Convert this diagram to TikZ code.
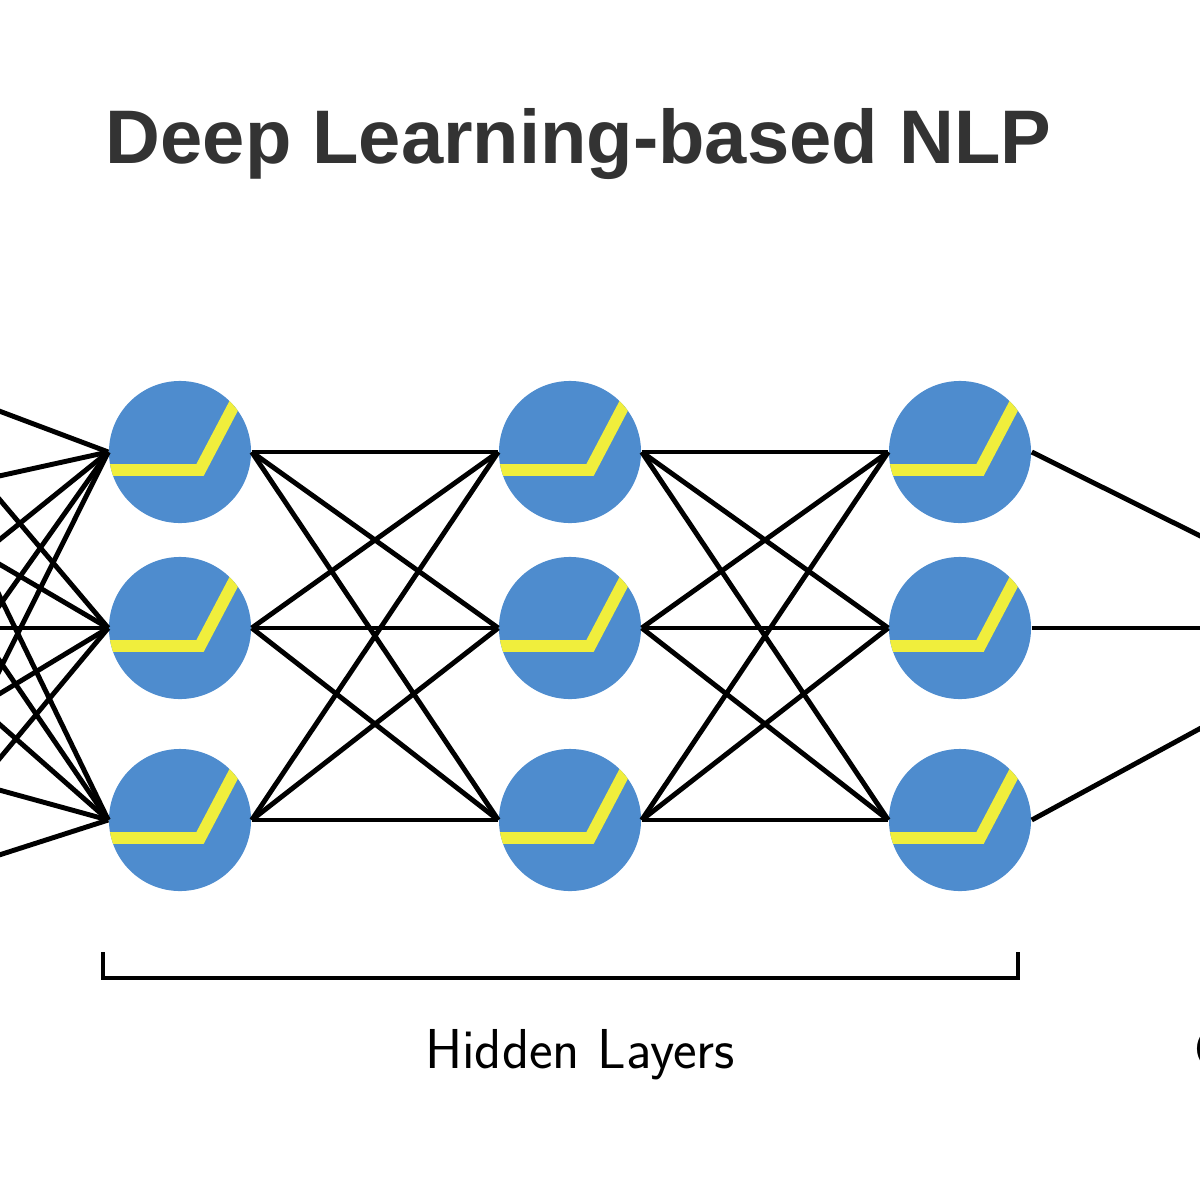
\documentclass[tikz,border=0pt]{standalone}
\usepackage{fontspec}
\newfontfamily\titlefont{Liberation Sans}
\begin{document}
\begin{tikzpicture}[x=0.01cm,y=-0.01cm,
  edge/.style={line width=1.4pt,black},
  neuron/.style={circle,fill=nblue,minimum size=1.42cm,inner sep=0pt}]
\definecolor{nblue}{RGB}{78,140,206}
\definecolor{nyellow}{RGB}{240,238,60}
\useasboundingbox (0,0) rectangle (1200,1200);
\clip (0,0) rectangle (1200,1200);
\node[anchor=base west,font=\titlefont\bfseries\fontsize{21.6}{25}\selectfont,text=black!80,inner sep=0pt] (title) at (105,163) {Deep Learning-based NLP};
% input coordinates (off canvas)
\foreach \i/\y in {1/370,2/500,3/628,4/760,5/890} \coordinate (in\i) at (-110,\y);
\coordinate (out) at (1385,628);
% hidden neurons
\foreach \c/\x in {1/180,2/570,3/960}
  \foreach \r/\y in {1/452,2/628,3/820} {
    \node[neuron] (h\c\r) at (\x,\y) {};
    \begin{scope}
      \clip (h\c\r.center) circle (71);
      \draw[nyellow,line width=3.4pt,line join=miter] ([shift={(-80,18)}]h\c\r.center) -- ([shift={(20,18)}]h\c\r.center) -- ([shift={(62,-62)}]h\c\r.center);
    \end{scope}
  }
% edges
\foreach \i in {1,...,5} \foreach \r in {1,2,3} \draw[edge] (in\i) -- (h1\r.west);
\foreach \a/\b in {1/2,2/3} \foreach \r in {1,2,3} \foreach \s in {1,2,3}
  \draw[edge] (h\a\r.east) -- (h\b\s.west);
\foreach \r in {1,2,3} \draw[edge] (h3\r.east) -- (out);
% bracket
\coordinate (bl) at (103,952);
\coordinate (br) at (1018,952);
\draw[edge,line cap=butt] (bl) -- ++(0,26) -| (br);
\node[font=\sffamily\fontsize{16}{18}\selectfont,anchor=base] (hl) at (580,1068) {Hidden Layers};
\node[font=\sffamily\fontsize{16}{18}\selectfont,anchor=base west,inner sep=0pt] (ol) at (1194,1068) {Output};
\end{tikzpicture}
\end{document}
